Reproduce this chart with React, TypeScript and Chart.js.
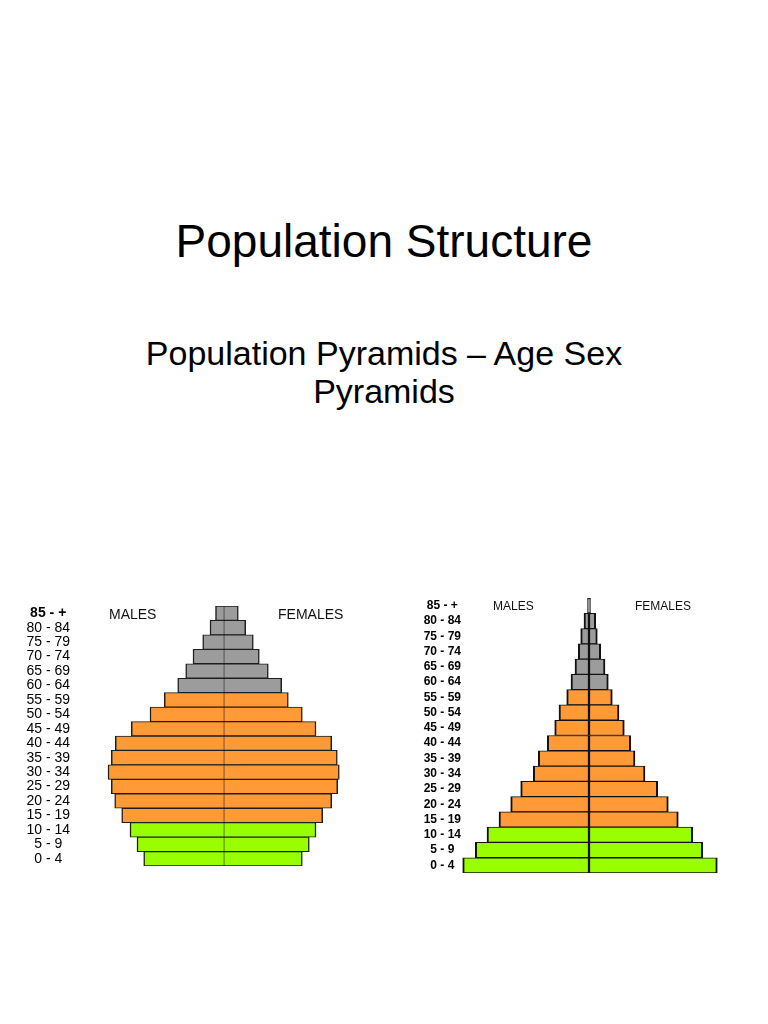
import React, { useEffect, useRef } from "react";
import { Chart, registerables } from "chart.js";

Chart.register(...registerables);

// ---- data (top row = oldest age group) ----
const ageGroups = [
  "85 - +", "80 - 84", "75 - 79", "70 - 74", "65 - 69", "60 - 64",
  "55 - 59", "50 - 54", "45 - 49", "40 - 44", "35 - 39", "30 - 34",
  "25 - 29", "20 - 24", "15 - 19", "10 - 14", "5 - 9", "0 - 4",
];

// Left pyramid (stationary / ageing population), relative bar lengths
const leftMales = [8.5, 14, 21.3, 31, 38.3, 46.3, 59.7, 74, 92.7, 108.7, 112.7, 116, 112.7, 109.3, 102.3, 94, 87, 80.3];
const leftFemales = [14.3, 21.7, 29.3, 35.3, 44.3, 57.7, 64.3, 78.3, 92, 107.7, 113.3, 115.3, 113.7, 107.7, 98.7, 92, 85.3, 78.3];

// Right pyramid (expanding population), relative bar lengths
const rightMales = [1.5, 5, 8.3, 10.7, 14, 18, 22.3, 30, 34.3, 41.7, 50.7, 55.7, 68.3, 78.3, 90, 102, 113.7, 126.3];
const rightFemales = [1.5, 6.7, 8.3, 11.7, 16, 19.3, 23.3, 30, 35.3, 41.7, 46, 56, 68.7, 79.3, 89.3, 103.7, 113.7, 128.3];

// age bands: elderly rows, working-age rows, young rows
const bandSizes = [6, 9, 3];

const GRAY = "#9c9c9c";
const ORANGE = "#ff9a36";
const GREEN = "#99ff00";
const bandColors = [GRAY, ORANGE, GREEN];

function rowColors(): string[] {
  const out: string[] = [];
  bandSizes.forEach((n, i) => {
    for (let k = 0; k < n; k++) out.push(bandColors[i]);
  });
  return out;
}

type PyramidProps = {
  males: number[];
  females: number[];
  left: number;
  top: number;
  height: number;
  axisWidth: number;
  plotWidth: number;
  min: number;
  max: number;
  tickPadding: number;
  fontFamily: string;
  fontSize: number;
  fontWeightFirst: string;
  fontWeight: string;
  outerBorder: number;
  centerBorder: number;
  rowBorder: number;
  borderColor: string;
};

function Pyramid(p: PyramidProps) {
  const ref = useRef<HTMLCanvasElement | null>(null);
  useEffect(() => {
    if (!ref.current) return;
    const colors = rowColors();
    const chart = new Chart(ref.current, {
      type: "bar",
      data: {
        labels: ageGroups,
        datasets: [
          {
            label: "Males",
            data: p.males.map((v) => -v),
            backgroundColor: colors,
            borderColor: p.borderColor,
            borderWidth: { top: p.rowBorder, bottom: p.rowBorder, left: p.outerBorder, right: p.centerBorder },
            borderSkipped: false,
            barPercentage: 1,
            categoryPercentage: 1,
          },
          {
            label: "Females",
            data: p.females,
            backgroundColor: colors,
            borderColor: p.borderColor,
            borderWidth: { top: p.rowBorder, bottom: p.rowBorder, left: p.centerBorder, right: p.outerBorder },
            borderSkipped: false,
            barPercentage: 1,
            categoryPercentage: 1,
          },
        ],
      },
      options: {
        indexAxis: "y",
        responsive: false,
        maintainAspectRatio: false,
        animation: false,
        devicePixelRatio: 1,
        layout: { padding: 0 },
        plugins: { legend: { display: false }, tooltip: { enabled: false } },
        scales: {
          x: { display: false, stacked: true, min: p.min, max: p.max },
          y: {
            stacked: true,
            position: "left",
            grid: { display: false, drawTicks: false },
            border: { display: false },
            ticks: {
              crossAlign: "center",
              padding: p.tickPadding,
              color: "#000",
              autoSkip: false,
              font: (ctx: any) => ({
                family: p.fontFamily,
                size: p.fontSize,
                weight: ctx.index === 0 ? p.fontWeightFirst : p.fontWeight,
              }),
            },
            afterFit: (s: any) => {
              s.width = p.axisWidth;
              s.paddingTop = 0;
              s.paddingBottom = 0;
            },
          },
        },
      },
    } as any);
    return () => chart.destroy();
  }, []);
  const w = p.axisWidth + p.plotWidth;
  return (
    <canvas
      ref={ref}
      width={w}
      height={p.height}
      style={{ position: "absolute", left: p.left, top: p.top, width: w, height: p.height, display: "block" }}
    />
  );
}

const SANS = "'Liberation Sans', Arial, sans-serif";

export default function App() {
  const label = (text: string, left: number, top: number, size: number) => (
    <div
      style={{
        position: "absolute",
        left,
        top,
        fontFamily: SANS,
        fontSize: size,
        lineHeight: size + "px",
        color: "#111",
        whiteSpace: "nowrap",
      }}
    >
      {text}
    </div>
  );
  return (
    <div style={{ position: "absolute", left: 0, top: 0, width: 768, height: 1024, background: "#fff", overflow: "hidden" }}>
      <div
        style={{
          position: "absolute",
          left: 0,
          top: 218,
          width: 768,
          textAlign: "center",
          fontFamily: SANS,
          fontSize: 46,
          lineHeight: "46px",
          color: "#000",
        }}
      >
        Population Structure
      </div>
      <div
        style={{
          position: "absolute",
          left: 0,
          top: 334,
          width: 768,
          textAlign: "center",
          fontFamily: SANS,
          fontSize: 34,
          lineHeight: "38px",
          color: "#000",
        }}
      >
        Population Pyramids – Age Sex
        <br />
        Pyramids
      </div>

      <Pyramid
        males={leftMales}
        females={leftFemales}
        left={0}
        top={606}
        height={260}
        axisWidth={99}
        plotWidth={250}
        min={-125}
        max={125}
        tickPadding={29}
        fontFamily={SANS}
        fontSize={14}
        fontWeightFirst="bold"
        fontWeight="normal"
        outerBorder={1.5}
        centerBorder={0.6}
        rowBorder={1}
        borderColor="#1e1e1e"
      />
      {label("MALES", 109, 607, 14)}
      {label("FEMALES", 278, 607, 14)}

      <Pyramid
        males={rightMales}
        females={rightFemales}
        left={400}
        top={598}
        height={275}
        axisWidth={62}
        plotWidth={262}
        min={-127}
        max={135}
        tickPadding={1}
        fontFamily={SANS}
        fontSize={12}
        fontWeightFirst="bold"
        fontWeight="bold"
        outerBorder={2}
        centerBorder={1.5}
        rowBorder={1}
        borderColor="#111"
      />
      {label("MALES", 493, 600, 12)}
      {label("FEMALES", 635, 600, 12)}
    </div>
  );
}
